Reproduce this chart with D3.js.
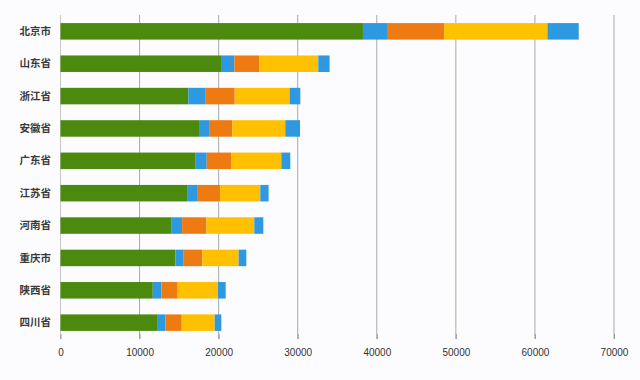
<!DOCTYPE html>
<html><head><meta charset="utf-8">
<script src="https://cdn.jsdelivr.net/npm/d3@7"></script>
<style>body{margin:0;background:#fcfcfe;}svg{display:block;}</style>
</head><body><svg id="c" width="640" height="380"></svg>
<script>
const categories = ["北京市","山东省","浙江省","安徽省","广东省","江苏省","河南省","重庆市","陕西省","四川省"];
const seriesA = [38250,20300,16170,17520,17100,16010,13990,14530,11670,12210]; // green
const seriesB = [3150,1690,2120,1270,1390,1260,1390,1050,1090,1060];          // blue
const seriesC = [7120,3160,3740,2940,3080,2910,3070,2360,2060,2060];          // orange
const seriesD = [13060,7450,6950,6700,6360,5090,6060,4590,5100,4170];         // yellow
const seriesE = [3960,1430,1350,1860,1130,1050,1140,970,970,840];             // blue
const tickValues = [0,10000,20000,30000,40000,50000,60000,70000];
const colors = ["#4b8a0e","#2e98e0","#ee7b12","#ffc000","#2e98e0"];

const svg = d3.select("#c");
const x = d3.scaleLinear().domain([0,70000]).range([60.5,614]);
const y = d3.scaleBand().domain(categories).range([15,339]).paddingInner(0.49).paddingOuter(0.25);

// gridlines
svg.append("g").selectAll("line").data(tickValues).join("line")
  .attr("x1",d=>x(d)).attr("x2",d=>x(d)).attr("y1",15).attr("y2",339)
  .attr("stroke",(d,i)=> i===0 ? "#c8c8c8" : "#a8a8b0").attr("stroke-width",1);

const rows = categories.map((c,i)=>({cat:c, vals:[seriesA[i],seriesB[i],seriesC[i],seriesD[i],seriesE[i]]}));
const segs = [];
rows.forEach(r=>{ let s=0; r.vals.forEach((v,k)=>{ segs.push({cat:r.cat,x0:s,x1:s+v,k}); s+=v; }); });
svg.append("g").selectAll("rect").data(segs).join("rect")
  .attr("x",d=>x(d.x0)).attr("width",d=>x(d.x1)-x(d.x0))
  .attr("y",d=>y(d.cat)).attr("height",y.bandwidth())
  .attr("fill",d=>colors[d.k]);

// x axis
const xa = svg.append("g").attr("transform","translate(0,334)")
  .call(d3.axisBottom(x).tickValues(tickValues).tickFormat(d3.format("d")).tickSize(5));
xa.select(".domain").remove();
xa.selectAll(".tick line").attr("stroke","#999");
xa.selectAll("text").attr("fill","#333").attr("dy","1.4em")
  .style("font-family","'Liberation Sans',Arial,sans-serif").style("font-size","10px");

// y labels
svg.append("g").selectAll("text").data(categories).join("text")
  .attr("x",51).attr("y",d=>y(d)+y.bandwidth()/2).attr("dy","0.35em")
  .attr("text-anchor","end").attr("fill","#3a3a3a")
  .style("font-family","'Noto Sans CJK SC',sans-serif").style("font-size","10.5px").style("font-weight","bold")
  .text(d=>d);
</script></body></html>
